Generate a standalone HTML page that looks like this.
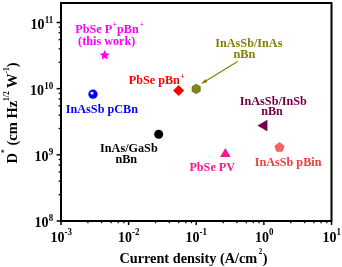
<!DOCTYPE html>
<html><head><meta charset="utf-8"><style>
html,body{margin:0;padding:0;background:#fff;}
svg{display:block;}
text{font-family:"Liberation Serif","Times New Roman",serif;font-weight:bold;}
.mj{stroke:#000;stroke-width:1.5;}
.mn{stroke:#000;stroke-width:1.3;}
.lb{font-size:12.2px;}
.tk{font-size:14px;fill:#000;}
.sp{font-size:9px;}
</style></head><body>
<svg width="342" height="267" viewBox="0 0 342 267">
<rect x="0" y="0" width="342" height="267" fill="#fff"/>
<line x1="61.00" y1="221" x2="61.00" y2="225" class="mj"/>
<line x1="87.91" y1="221" x2="87.91" y2="223.2" class="mn"/>
<line x1="101.71" y1="221" x2="101.71" y2="223.2" class="mn"/>
<line x1="111.07" y1="221" x2="111.07" y2="223.2" class="mn"/>
<line x1="118.15" y1="221" x2="118.15" y2="223.2" class="mn"/>
<line x1="123.85" y1="221" x2="123.85" y2="223.2" class="mn"/>
<line x1="128.62" y1="221" x2="128.62" y2="225" class="mj"/>
<line x1="155.54" y1="221" x2="155.54" y2="223.2" class="mn"/>
<line x1="169.34" y1="221" x2="169.34" y2="223.2" class="mn"/>
<line x1="178.69" y1="221" x2="178.69" y2="223.2" class="mn"/>
<line x1="185.77" y1="221" x2="185.77" y2="223.2" class="mn"/>
<line x1="191.48" y1="221" x2="191.48" y2="223.2" class="mn"/>
<line x1="196.25" y1="221" x2="196.25" y2="225" class="mj"/>
<line x1="223.16" y1="221" x2="223.16" y2="223.2" class="mn"/>
<line x1="236.96" y1="221" x2="236.96" y2="223.2" class="mn"/>
<line x1="246.32" y1="221" x2="246.32" y2="223.2" class="mn"/>
<line x1="253.40" y1="221" x2="253.40" y2="223.2" class="mn"/>
<line x1="259.10" y1="221" x2="259.10" y2="223.2" class="mn"/>
<line x1="263.88" y1="221" x2="263.88" y2="225" class="mj"/>
<line x1="290.79" y1="221" x2="290.79" y2="223.2" class="mn"/>
<line x1="304.59" y1="221" x2="304.59" y2="223.2" class="mn"/>
<line x1="313.94" y1="221" x2="313.94" y2="223.2" class="mn"/>
<line x1="321.02" y1="221" x2="321.02" y2="223.2" class="mn"/>
<line x1="326.73" y1="221" x2="326.73" y2="223.2" class="mn"/>
<line x1="331.50" y1="221" x2="331.50" y2="225" class="mj"/>
<line x1="61" y1="221.00" x2="56.6" y2="221.00" class="mj"/>
<line x1="61" y1="194.67" x2="58.6" y2="194.67" class="mn"/>
<line x1="61" y1="181.16" x2="58.6" y2="181.16" class="mn"/>
<line x1="61" y1="172.01" x2="58.6" y2="172.01" class="mn"/>
<line x1="61" y1="165.08" x2="58.6" y2="165.08" class="mn"/>
<line x1="61" y1="159.50" x2="58.6" y2="159.50" class="mn"/>
<line x1="61" y1="154.83" x2="56.6" y2="154.83" class="mj"/>
<line x1="61" y1="128.50" x2="58.6" y2="128.50" class="mn"/>
<line x1="61" y1="115.00" x2="58.6" y2="115.00" class="mn"/>
<line x1="61" y1="105.85" x2="58.6" y2="105.85" class="mn"/>
<line x1="61" y1="98.92" x2="58.6" y2="98.92" class="mn"/>
<line x1="61" y1="93.34" x2="58.6" y2="93.34" class="mn"/>
<line x1="61" y1="88.67" x2="56.6" y2="88.67" class="mj"/>
<line x1="61" y1="62.34" x2="58.6" y2="62.34" class="mn"/>
<line x1="61" y1="48.83" x2="58.6" y2="48.83" class="mn"/>
<line x1="61" y1="39.68" x2="58.6" y2="39.68" class="mn"/>
<line x1="61" y1="32.75" x2="58.6" y2="32.75" class="mn"/>
<line x1="61" y1="27.17" x2="58.6" y2="27.17" class="mn"/>
<line x1="61" y1="22.50" x2="56.6" y2="22.50" class="mj"/>
<rect x="61" y="3" width="270.5" height="218" fill="none" stroke="#000" stroke-width="2"/>
<g transform="matrix(1,0,0,1.04,0,-3.796)"><text x="53.2" y="94.9" class="tk" text-anchor="end">10<tspan class="sp" dx="0.3" dy="-6.0">10</tspan></text></g>
<g transform="matrix(1,0,0,1.04,0,-1.156)"><text x="53.2" y="28.9" class="tk" text-anchor="end">10<tspan class="sp" dx="0.3" dy="-6.0">11</tspan></text></g>
<g transform="matrix(1,0,0,1.04,0,-6.432)"><text x="53.2" y="160.8" class="tk" text-anchor="end">10<tspan class="sp" dx="0.3" dy="-6.0">9</tspan></text></g>
<g transform="matrix(1,0,0,1.04,0,-9.076)"><text x="53.2" y="226.9" class="tk" text-anchor="end">10<tspan class="sp" dx="0.3" dy="-6.0">8</tspan></text></g>
<g transform="matrix(1,0,0,1.04,0,-9.668)"><text x="50.5" y="241.7" class="tk">10<tspan class="sp" dy="-6">-3</tspan></text></g>
<g transform="matrix(1,0,0,1.04,0,-9.668)"><text x="118" y="241.7" class="tk">10<tspan class="sp" dy="-6">-2</tspan></text></g>
<g transform="matrix(1,0,0,1.04,0,-9.668)"><text x="185.5" y="241.7" class="tk">10<tspan class="sp" dy="-6">-1</tspan></text></g>
<g transform="matrix(1,0,0,1.04,0,-9.668)"><text x="255" y="241.7" class="tk">10<tspan class="sp" dy="-6">0</tspan></text></g>
<g transform="matrix(1,0,0,1.04,0,-9.668)"><text x="322.5" y="241.7" class="tk">10<tspan class="sp" dy="-6">1</tspan></text></g>
<g transform="matrix(1,0,0,1.04,0,-10.512)"><text x="119.4" y="262.8" style="font-size:14.3px">Current density (A/cm<tspan style="font-size:7px" dx="1.6" dy="-8.2">2</tspan><tspan dx="0.5" dy="8.2">)</tspan></text></g>
<text transform="translate(16.9,163.4) rotate(-90) scale(1,1.04)" x="0" y="0" style="font-size:14.5px">D<tspan style="font-size:7.5px" dy="-9.5">*</tspan><tspan dy="9.5"> (cm Hz</tspan><tspan style="font-size:7.5px" dy="-7.5">1/2</tspan><tspan dy="7.5"> W</tspan><tspan style="font-size:7.5px" dy="-7.5">-1</tspan><tspan dy="7.5">)</tspan></text>
<defs><radialGradient id="bg" cx="0.5" cy="0.5" r="0.5" fx="0.34" fy="0.33">
<stop offset="0" stop-color="#ffffff"/><stop offset="0.14" stop-color="#ffffff"/><stop offset="0.45" stop-color="#0000ff"/><stop offset="0.85" stop-color="#0000f5"/><stop offset="1" stop-color="#0000d0"/></radialGradient></defs>
<polygon points="104.70,50.00 103.23,53.28 99.66,53.66 102.32,56.07 101.58,59.59 104.70,57.80 107.82,59.59 107.08,56.07 109.74,53.66 106.17,53.28" fill="#ff00ff"/>
<circle cx="93" cy="94.2" r="4.65" fill="url(#bg)"/>
<polygon points="178.6,84.9 184.1,90.4 178.6,95.9 173.1,90.4" fill="#ff0000"/>
<polygon points="196.20,84.15 192.09,86.53 192.09,91.28 196.20,93.65 200.31,91.28 200.31,86.53" fill="#84841a" stroke="#5c5c00" stroke-width="0.6"/>
<circle cx="158.7" cy="134.3" r="4.5" fill="#000"/>
<polygon points="225.4,148.1 230.6,157.1 220.1,157.1" fill="#ff1493"/>
<polygon points="257.9,125.6 267.1,120.3 267.1,130.9" fill="#7a0050" stroke="#5a0035" stroke-width="0.5"/>
<polygon points="279.50,142.55 274.89,145.90 276.65,151.32 282.35,151.32 284.11,145.90" fill="#ff6060" stroke="#f03c3c" stroke-width="0.6"/>
<line x1="237.6" y1="61.4" x2="205.43" y2="81.18" stroke="#808000" stroke-width="1.2"/>
<polygon points="201.0,83.9 205.29,79.03 207.28,82.27" fill="#808000"/>
<g transform="matrix(1,0,0,1.09,0,-2.943)"><text x="75.3" y="32.7" class="lb" fill="#ff00ff">PbSe P<tspan style="font-size:7.5px" dx="0.3" dy="-4.8">+</tspan><tspan dx="0.3" dy="4.8">pBn</tspan><tspan style="font-size:7.5px" dx="1" dy="-4.8">+</tspan></text></g>
<g transform="matrix(1,0,0,1.09,0,-4.059)"><text x="78.1" y="45.1" class="lb" fill="#ff00ff">(this work)</text></g>
<g transform="matrix(1,0,0,1.09,0,-7.551)"><text x="128.7" y="83.9" class="lb" fill="#ff0000">PbSe pBn<tspan style="font-size:7.5px" dx="0.3" dy="-4.8">+</tspan></text></g>
<g transform="matrix(1,0,0,1.09,0,-4.212)"><text x="215.3" y="46.8" class="lb" fill="#808000">InAsSb/InAs</text></g>
<g transform="matrix(1,0,0,1.09,0,-5.193)"><text x="233.5" y="57.7" class="lb" fill="#808000">nBn</text></g>
<g transform="matrix(1,0,0,1.09,0,-10.215)"><text x="65.8" y="113.5" class="lb" fill="#0000ff">InAsSb pCBn</text></g>
<g transform="matrix(1,0,0,1.09,0,-13.707)"><text x="100.1" y="152.3" class="lb" fill="#000000">InAs/GaSb</text></g>
<g transform="matrix(1,0,0,1.09,0,-14.715)"><text x="115.4" y="163.5" class="lb" fill="#000000">nBn</text></g>
<g transform="matrix(1,0,0,1.09,0,-9.414)"><text x="239.8" y="104.6" class="lb" fill="#6a0040">InAsSb/InSb</text></g>
<g transform="matrix(1,0,0,1.09,0,-10.386)"><text x="261.2" y="115.4" class="lb" fill="#6a0040">nBn</text></g>
<g transform="matrix(1,0,0,1.09,0,-15.417)"><text x="189.4" y="171.3" class="lb" fill="#ff1493">PbSe PV</text></g>
<g transform="matrix(1,0,0,1.09,0,-14.949)"><text x="254.7" y="166.1" class="lb" fill="#f03c3c">InAsSb pBin</text></g>
</svg>
</body></html>
